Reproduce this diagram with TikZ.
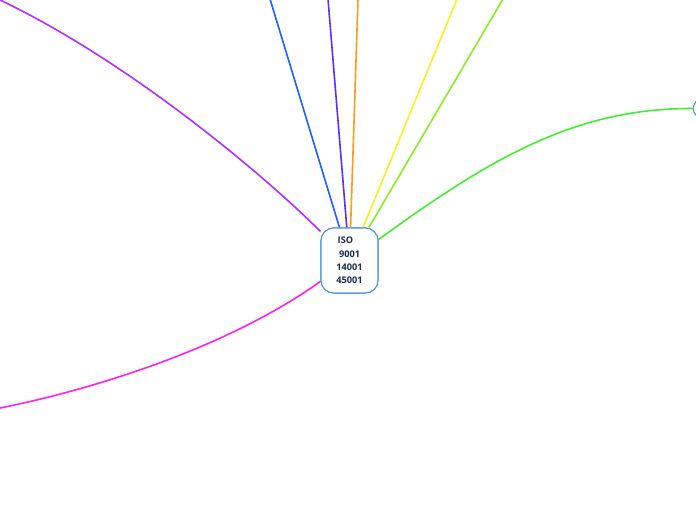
\documentclass[tikz,border=0pt]{standalone}
\usepackage{fontspec}
\setmainfont{Open Sans}
\definecolor{nodeborder}{HTML}{4F97D1}
\definecolor{nodetext}{HTML}{1B2A52}
\definecolor{cpurple}{HTML}{B030FF}
\definecolor{cblue}{HTML}{2060FF}
\definecolor{cindigo}{HTML}{5530FF}
\definecolor{corange}{HTML}{FF9A1E}
\definecolor{cyellow}{HTML}{F4F41E}
\definecolor{cyg}{HTML}{8AEE22}
\definecolor{cgreen}{HTML}{44EE33}
\definecolor{cmagenta}{HTML}{FF22EE}
\tikzset{
  topicbox/.style={draw=nodeborder, line width=0.8pt, fill=white, rounded corners=9.5pt,
    minimum width=42.75pt, minimum height=48.75pt, inner sep=0pt,
    align=center, text=nodetext, font=\fontsize{6.9pt}{10pt}\selectfont\bfseries},
  branch/.style={line width=1.2pt}
}
\begin{document}
\begin{tikzpicture}[x=0.75pt,y=-0.75pt]
\clip (0,0) rectangle (696,520);
\fill[white] (0,0) rectangle (696,520);
% right partial node
\node[draw=nodeborder, line width=0.8pt, fill=white, rounded corners=8pt,
      minimum width=45pt, minimum height=15pt] (side) at (723,108.5) {};
% free ends
\coordinate (p1) at (0,0);
\coordinate (b1) at (270,-1);
\coordinate (b2) at (328,-1);
\coordinate (b3) at (358,-1);
\coordinate (b4) at (457,-1);
\coordinate (b5) at (503,-1);
\coordinate (m1) at (0,408);
% central node
\node[topicbox] (iso) at (349.5,260.5) {ISO\hphantom{IS}\\9001\\14001\\45001};
% branches
\draw[branch, cpurple] (p1) .. controls (130,62) and (265,176) .. (iso);
\draw[branch, cblue] (b1) -- (iso);
\draw[branch, cindigo] (b2) -- (iso);
\draw[branch, corange] (b3) -- (iso);
\draw[branch, cyellow] (b4) -- (iso);
\draw[branch, cyg] (b5) -- (iso);
\draw[branch, cgreen] (iso) .. controls (487,161) and (573,108) .. (side.west);
\draw[branch, cmagenta] (iso) .. controls (232,345) and (100,388) .. (m1);
\node[topicbox] at (iso) {ISO\hphantom{IS}\\9001\\14001\\45001};
\end{tikzpicture}
\end{document}
